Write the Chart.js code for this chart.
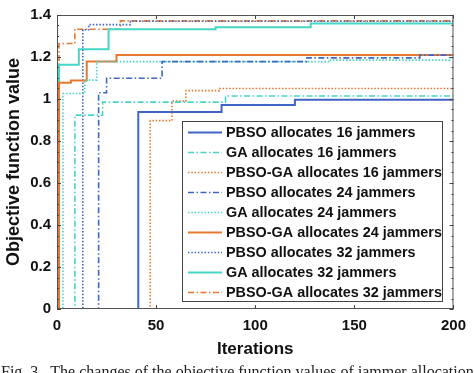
<!DOCTYPE html>
<html><head><meta charset="utf-8">
<script src="https://cdn.jsdelivr.net/npm/chart.js@4/dist/chart.umd.min.js"></script>
<style>html,body{margin:0;padding:0;background:#fff;}canvas{display:block;}</style>
</head><body>
<canvas id="c" width="474" height="373"></canvas>
<script>
// ---- data (step points: iteration at which the value jumps, new value) ----
const seriesLabels = [
  "PBSO allocates 16 jammers","GA allocates 16 jammers","PBSO-GA allocates 16 jammers",
  "PBSO allocates 24 jammers","GA allocates 24 jammers","PBSO-GA allocates 24 jammers",
  "PBSO allocates 32 jammers","GA allocates 32 jammers","PBSO-GA allocates 32 jammers"];
const pbso16_it = [0, 41, 83, 120, 200];
const pbso16_v  = [0, 0.938, 0.972, 0.997, 0.997];
const ga16_it   = [0, 9, 23, 85, 200];
const ga16_v    = [0, 0.923, 0.985, 1.014, 1.014];
const pg16_it   = [0, 47, 58, 65, 82, 200];
const pg16_v    = [0, 0.897, 0.99, 1.04, 1.05, 1.05];
const pbso24_it = [0, 21, 25, 53, 126, 183, 200];
const pbso24_v  = [0, 1.03, 1.099, 1.178, 1.196, 1.209, 1.209];
const ga24_it   = [0, 3, 14, 20, 138, 198, 200];
const ga24_v    = [0, 1.026, 1.09, 1.178, 1.185, 1.196, 1.196];
const pg24_it   = [0, 1, 7, 15, 30, 200];
const pg24_v    = [0, 1.077, 1.088, 1.178, 1.21, 1.21];
const pbso32_it = [0, 13, 16, 37, 200];
const pbso32_v  = [0, 1.33, 1.354, 1.37, 1.37];
const ga32_it   = [0, 1, 11, 26, 80, 128, 200];
const ga32_v    = [0, 1.163, 1.237, 1.332, 1.342, 1.36, 1.36];
const pg32_it   = [0, 1, 9, 32, 200];
const pg32_v    = [0, 1.264, 1.332, 1.372, 1.372];
const xTicks = [0, 50, 100, 150, 200];
const yTicks = [0, 0.2, 0.4, 0.6, 0.8, 1, 1.2, 1.4];

const BLUE = '#3F66C4', TEAL = '#45D6C6', ORANGE = '#E8782F';
const SOLID = [], DASHDOT = [6, 2.5, 1.5, 2.5], DOT = [1.5, 1.8];
const its = [pbso16_it, ga16_it, pg16_it, pbso24_it, ga24_it, pg24_it, pbso32_it, ga32_it, pg32_it];
const vals = [pbso16_v, ga16_v, pg16_v, pbso24_v, ga24_v, pg24_v, pbso32_v, ga32_v, pg32_v];
const colors = [BLUE, TEAL, ORANGE, BLUE, TEAL, ORANGE, BLUE, TEAL, ORANGE];
const dashes = [SOLID, DASHDOT, DOT, DASHDOT, DOT, SOLID, DOT, SOLID, DASHDOT];
const widths = [2, 1.6, 1.6, 1.6, 1.6, 2, 1.6, 2, 1.6];

const datasets = seriesLabels.map((lab, i) => ({
  label: lab,
  data: its[i].map((x, k) => ({x: x, y: vals[i][k]})),
  borderColor: colors[i], backgroundColor: colors[i],
  borderDash: dashes[i], borderWidth: widths[i],
  stepped: 'before', pointRadius: 0, fill: false, order: i
}));

const FONT = '"Liberation Sans", Arial, sans-serif';

const deco = {
  id: 'deco',
  afterDatasetsDraw(chart) {
    const ctx = chart.ctx, a = chart.chartArea;
    const xs = chart.scales.x, ys = chart.scales.y;
    ctx.save();
    // box
    ctx.strokeStyle = '#555'; ctx.lineWidth = 1; ctx.setLineDash([]);
    ctx.strokeRect(a.left + 0.5, a.top + 0.5, a.right - a.left - 1, a.bottom - a.top - 1);
    ctx.strokeStyle = '#444';
    ctx.beginPath();
    xTicks.forEach(t => {
      const px = Math.round(xs.getPixelForValue(t)) + 0.5;
      ctx.moveTo(px, a.bottom); ctx.lineTo(px, a.bottom - 4);
      ctx.moveTo(px, a.top); ctx.lineTo(px, a.top + 4);
    });
    for (let k = 0; k <= 28; k++) {
      const v = k * 0.05;
      const py = Math.round(ys.getPixelForValue(v)) + 0.5;
      const len = (k % 4 === 0) ? 4 : 2;
      ctx.moveTo(a.left, py); ctx.lineTo(a.left + len, py);
      ctx.moveTo(a.right, py); ctx.lineTo(a.right - len, py);
    }
    ctx.stroke();

    // legend
    const L = a.left + 125, T = 121, R = a.left + 386, B = 302;
    ctx.fillStyle = '#fff'; ctx.fillRect(L, T, R - L, B - T);
    ctx.strokeStyle = '#444'; ctx.strokeRect(L + 0.5, T + 0.5, R - L - 1, B - T - 1);
    ctx.font = 'bold 14.4px ' + FONT; ctx.textBaseline = 'middle'; ctx.textAlign = 'left';
    chart.data.datasets.forEach((d, i) => {
      const y = T + 11 + i * 20;
      ctx.strokeStyle = d.borderColor; ctx.lineWidth = d.borderWidth;
      ctx.setLineDash(d.borderDash);
      ctx.beginPath(); ctx.moveTo(L + 6, y + 0.5); ctx.lineTo(L + 40, y + 0.5); ctx.stroke();
      ctx.setLineDash([]);
      ctx.fillStyle = '#111'; ctx.fillText(d.label, L + 44, y + 1);
    });

    // axis titles
    ctx.fillStyle = '#111';
    ctx.font = 'bold 17px ' + FONT; ctx.textAlign = 'center'; ctx.textBaseline = 'middle';
    ctx.fillText('Iterations', (a.left + a.right) / 2, 349);
    ctx.save();
    ctx.translate(14, (a.top + a.bottom) / 2);
    ctx.rotate(-Math.PI / 2);
    ctx.font = 'bold 18px ' + FONT;
    ctx.fillText('Objective function value', 0, 0);
    ctx.restore();
    // caption (cut off at the bottom)
    ctx.font = '16px "Liberation Serif", "Times New Roman", serif';
    ctx.textAlign = 'left'; ctx.textBaseline = 'top';
    ctx.fillStyle = '#222';
    ctx.fillText('Fig. 3.  The changes of the objective function values of jammer allocation algorithms', 1, 365);
    ctx.restore();
  }
};

new Chart(document.getElementById('c'), {
  type: 'line',
  data: { datasets: datasets },
  options: {
    responsive: false, animation: false, devicePixelRatio: 1,
    layout: { padding: { left: 0, right: 12, top: 11, bottom: 0 } },
    plugins: { legend: { display: false }, tooltip: { enabled: false } },
    scales: {
      x: {
        type: 'linear', min: 0, max: 200,
        afterBuildTicks: s => { s.ticks = xTicks.map(v => ({value: v})); },
        afterFit: s => { s.height = 64; },
        grid: { display: false, drawTicks: false },
        border: { display: false },
        ticks: { padding: 8, color: '#111', font: { family: FONT, size: 15, weight: 'bold' }, maxRotation: 0 }
      },
      y: {
        type: 'linear', min: 0, max: 1.4,
        afterBuildTicks: s => { s.ticks = yTicks.map(v => ({value: v})); },
        afterFit: s => { s.width = 57; },
        grid: { display: false, drawTicks: false },
        border: { display: false },
        ticks: { padding: 6, color: '#111', font: { family: FONT, size: 15, weight: 'bold' },
                 callback: v => String(Math.round(v * 10) / 10) }
      }
    }
  },
  plugins: [deco]
});
</script>
</body></html>
